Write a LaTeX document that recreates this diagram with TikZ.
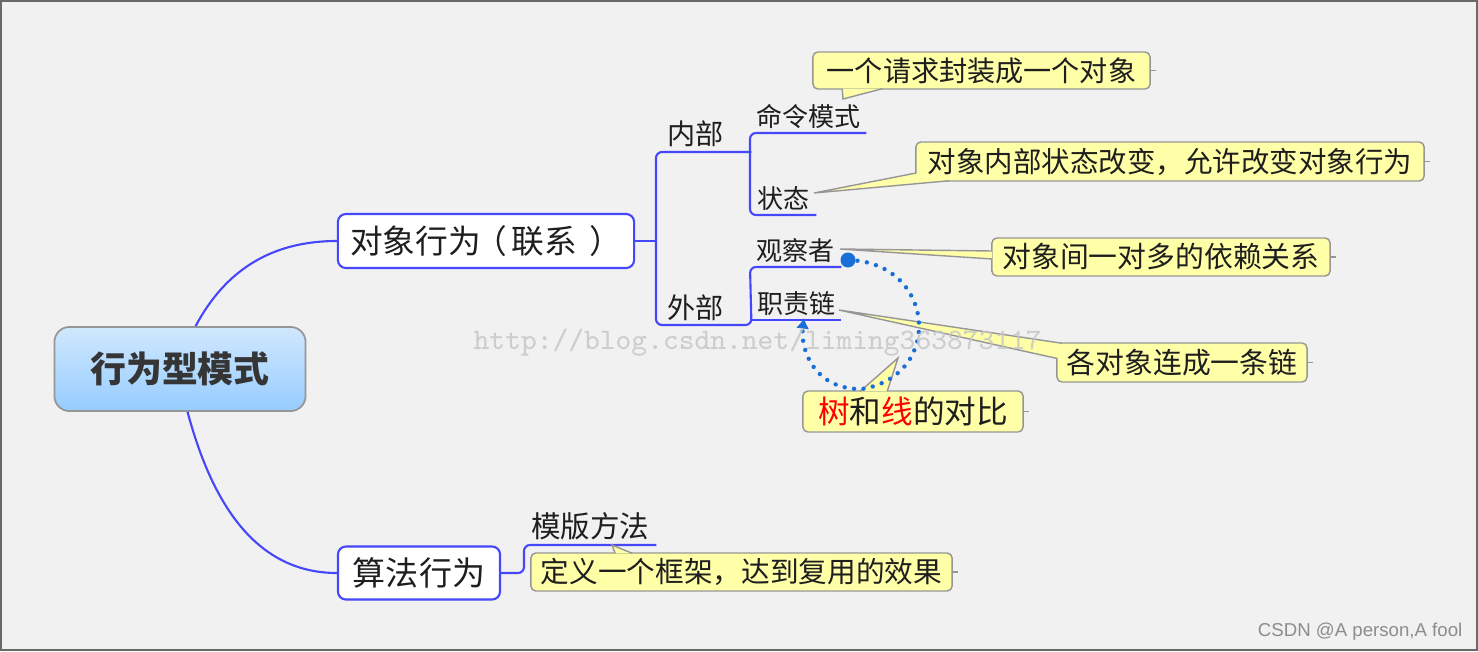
\documentclass[tikz,border=0pt]{standalone}
\usepackage{fontspec}
\setmainfont{Noto Sans CJK SC}
\newfontfamily\tagfont{Liberation Sans}
\usetikzlibrary{arrows.meta,calc}
\definecolor{bgc}{RGB}{241,241,241}
\definecolor{framec}{RGB}{105,105,105}
\definecolor{brc}{RGB}{70,70,250}
\definecolor{rootup}{RGB}{208,232,253}
\definecolor{rootdn}{RGB}{150,204,255}
\definecolor{notey}{RGB}{255,255,168}
\definecolor{notel}{RGB}{150,150,150}
\definecolor{loopc}{RGB}{25,110,215}
\definecolor{ink}{RGB}{30,30,30}

\begin{document}
\begin{tikzpicture}[x=0.01cm,y=-0.01cm,
  branch/.style={draw=brc,line width=0.6pt,rounded corners=0.06cm},
  topic/.style={draw=brc,fill=white,line width=0.6pt,rounded corners=0.08cm,text=ink,inner sep=0pt},
  leaf/.style={inner xsep=0pt,inner ysep=0.04cm,anchor=south west,text=ink,font=\fontsize{7.4pt}{8pt}\selectfont},
  note/.style={draw=notel,fill=notey,line width=0.4pt,rounded corners=0.05cm,inner sep=0pt,text=ink,font=\fontsize{8.2pt}{9pt}\selectfont},
  notetip/.style={draw=notel,fill=notey,line width=0.4pt},
  stub/.style={draw=notel,line width=0.4pt},
  loopline/.style={draw=loopc,line width=1.25pt,line cap=round,dash pattern=on 0pt off 2.7pt,-{Latex[length=3pt,width=3.8pt]}}]
  % background and frame
  \useasboundingbox (0,0) rectangle (1478,651);
  \fill[bgc] (0,0) rectangle (1478,651);
  \draw[framec,line width=0.6pt] (1,1) rectangle (1477,650);

  % topics
  \node[draw=notel,top color=rootup,bottom color=rootdn,rounded corners=0.15cm,line width=0.5pt,
        minimum width=2.51cm,minimum height=0.84cm,text=ink!90,
        font=\fontsize{10.2pt}{11pt}\selectfont\bfseries] (root) at (180,369) {行为型模式};
  \node[topic,minimum width=2.96cm,minimum height=0.54cm,font=\fontsize{9.3pt}{10pt}\selectfont] (obj) at (486,241) {对象行为\kern-0.07cm（\kern0.05cm联系\hspace{0.12cm}）};
  \node[topic,minimum width=1.62cm,minimum height=0.53cm,font=\fontsize{9.4pt}{10pt}\selectfont] (algo) at (419,573) {算法行为};

  % sub topics
  \node[leaf,text width=0.72cm,align=left,inner xsep=0.11cm,font=\fontsize{8pt}{9pt}\selectfont] (neibu) at (656,152) {内部};
  \node[leaf,text width=0.72cm,align=left,inner xsep=0.11cm,font=\fontsize{8pt}{9pt}\selectfont] (waibu) at (656,325) {外部};
  \node[leaf,minimum width=1.15cm] (mingling) at (750,133) {命令模式};
  \node[leaf,minimum width=0.65cm] (zhuangtai) at (750,215) {状态};
  \node[leaf,minimum width=0.9cm] (guancha) at (750,267) {观察者};
  \node[leaf,minimum width=0.88cm] (zhize) at (752,320) {职责链};
  \node[leaf,minimum width=1.31cm,font=\fontsize{8.4pt}{9pt}\selectfont] (muban) at (524,545) {模版方法};

  % branches
  \draw[branch] (root.70) to[out=62,in=180] (obj.west);
  \draw[branch] (root.-80) to[out=-75,in=180] (algo.west);
  \draw[branch] (obj.east) -- (obj.east -| neibu.south west);
  \draw[branch] (neibu.south east) -- (neibu.south west) -- (waibu.south west) -- (waibu.south east) -- (guancha.south west) -- (guancha.south east);
  \draw[branch] (mingling.south east) -- (mingling.south west) -- (zhuangtai.south west) -- (zhuangtai.south east);
  \draw[branch] (zhize.south west) -- (zhize.south east);
  \draw[branch] (algo.east) -- (algo.east -| muban.south west) -- (muban.south west) -- (muban.south east);

  % callouts
  \coordinate (t1) at (843,99);
  \coordinate (t2) at (814,193);
  \coordinate (t3) at (840,249);
  \coordinate (t4) at (839,310);
  \coordinate (t5) at (898,358);
  \coordinate (t6) at (612,545);
  \node[note,minimum width=3.37cm,minimum height=0.37cm,font=\fontsize{8pt}{9pt}\selectfont] (c1) at (981.5,70.5) {一个请求封装成一个对象};
  \node[note,minimum width=5.08cm,minimum height=0.39cm,font=\fontsize{8.1pt}{9pt}\selectfont] (c2) at (1170,161.5) {对象内部状态改变，允许改变对象行为};
  \node[note,minimum width=3.38cm,minimum height=0.38cm] (c3) at (1161,257) {对象间一对多的依赖关系};
  \node[note,minimum width=2.5cm,minimum height=0.39cm] (c4) at (1182,362.5) {各对象连成一条链};
  \node[note,minimum width=2.2cm,minimum height=0.41cm,font=\fontsize{9pt}{10pt}\selectfont] (c5) at (913,411.5) {\textcolor{red}{树}和\textcolor{red}{线}的对比};
  \node[note,minimum width=4.21cm,minimum height=0.38cm,font=\fontsize{8.15pt}{9pt}\selectfont] (c6) at (741.5,572) {定义一个框架，达到复用的效果};
  \filldraw[notetip] ($(c1.south west)+(30,-1)$) -- (t1) -- ($(c1.south west)+(70,-1)$);
  \filldraw[notetip] ($(c2.west)+(1,11.5)$) -- (t2) -- ($(c2.south west)+(34,-1)$);
  \filldraw[notetip] ($(c3.west)+(1,-6)$) -- (t3) -- ($(c3.west)+(1,2)$);
  \filldraw[notetip] ($(c4.north west)+(6,1)$) -- (t4) -- ($(c4.west)+(1,-4)$);
  \filldraw[notetip] ($(c5.north west)+(58,1)$) -- (t5) -- ($(c5.north west)+(85,1)$);
  \filldraw[notetip] ($(c6.north west)+(85,1)$) -- (t6) -- ($(c6.north west)+(102,1)$);
  \foreach \c in {c1,c2,c3,c4,c5,c6}
    \draw[stub] (\c.east) -- ++(5,0);

  % tree vs. line
  \node[circle,fill=loopc,inner sep=0pt,minimum size=0.15cm] (dot) at (848,260) {};
  \coordinate (loopend) at (804,318);
  \draw[loopline] (dot.center) .. controls (935,262) and (945,375) .. (862,389)
                  .. controls (815,390) and (800,350) .. (loopend);

  % watermarks
  \node[anchor=west,inner sep=0pt,text=black!22,opacity=0.85,font=\ttfamily\fontsize{8.45pt}{9pt}\selectfont] (wmark) at (473,343) {http://blog.csdn.net/liming363873117};
  \node[anchor=east,inner sep=0pt,text=black!45,font=\tagfont\fontsize{5.3pt}{6pt}\selectfont] (csdn) at (1463,632) {CSDN @A person,A fool};
\end{tikzpicture}
\end{document}
